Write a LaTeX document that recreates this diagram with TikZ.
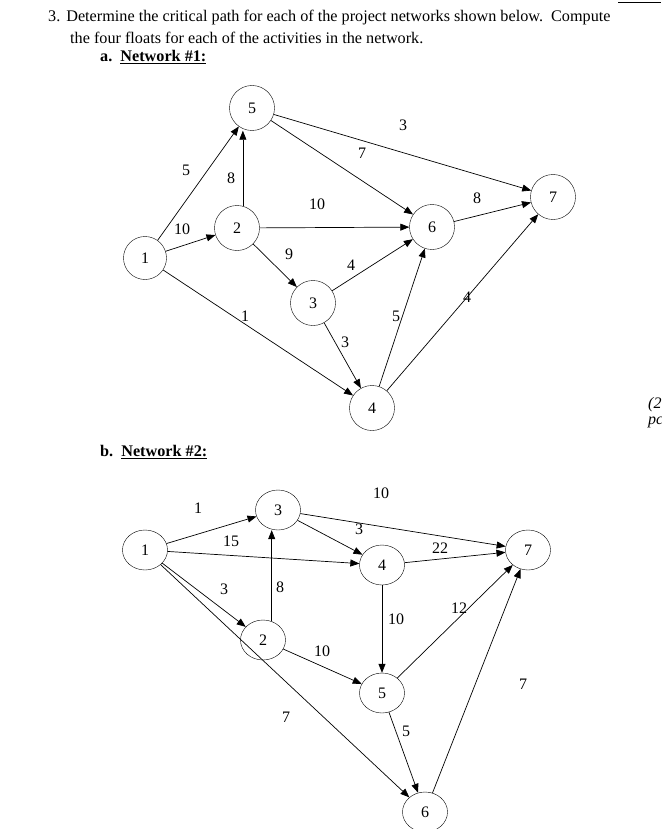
\documentclass[tikz,border=0pt]{standalone}
\usepackage{fontspec}
\setmainfont{Liberation Serif}
\usetikzlibrary{arrows.meta,shapes.geometric}
\begin{document}
\begin{tikzpicture}[x=1pt,y=-1pt,
  nd/.style={draw,circle,minimum size=45pt,inner sep=0pt,font=\fontsize{16}{16}\selectfont},
  el/.style={draw,ellipse,minimum width=45pt,minimum height=40pt,inner sep=0pt,font=\fontsize{16}{16}\selectfont},
  ar/.style={-{Triangle[length=9pt,width=7pt]},line width=0.7pt},
  lb/.style={font=\fontsize{16}{16}\selectfont,inner sep=0pt},
  tx/.style={font=\fontsize{16.2}{18}\selectfont,inner sep=0pt,anchor=west}]
\useasboundingbox (0,0) rectangle (661,829);
\fill[white] (0,0) rectangle (661,829);
\draw[line width=0.5pt] (618,2) -- (661,2);
\node[tx] (h1) at (48,18) {3.\hspace{6pt}Determine the critical path for each of the project networks shown below.\ \ Compute};
\node[tx] (h2) at (70,38) {the four floats for each of the activities in the network.};
\node[tx] (ha) at (100,57) {\textbf{a.\ \ \underline{Network \#1:}}};
\node[tx] (hb) at (100,452) {\textbf{b.\ \ \underline{Network \#2:}}};
\node[tx,font=\itshape\fontsize{16}{18}\selectfont] (s1) at (648,405) {(2};
\node[tx,font=\itshape\fontsize{16}{18}\selectfont] (s2) at (648,422) {pc};
% Network 1
\node[nd,minimum size=43pt] (a1) at (145,258) {1};
\node[nd] (a5) at (252,108) {5};
\node[nd] (a2) at (237,228) {2};
\node[nd] (a6) at (432,227) {6};
\node[nd] (a7) at (553,197) {7};
\node[nd] (a3) at (313,303) {3};
\node[nd] (a4) at (372,408) {4};
\draw[ar] (a1) -- (a5); \draw[ar] (a1) -- (a2); \draw[ar] (a1) -- (a4);
\draw[ar] (a2.75) -- (a2.75 |- a5.south); \draw[ar] (a2) -- (a6); \draw[ar] (a2) -- (a3);
\draw[ar] (a5) -- (a6); \draw[ar] (a5) -- (a7); \draw[ar] (a6) -- (a7);
\draw[ar] (a3) -- (a6); \draw[ar] (a3) -- (a4); \draw[ar] (a4) -- (a6);
\draw[ar] (a4) -- (a7);
\node[lb] (l1) at (186,170) {5}; \node[lb] (l2) at (231,178) {8};
\node[lb] (l3) at (182,229) {10}; \node[lb] (l4) at (317,204) {10};
\node[lb] (l5) at (362,153) {7}; \node[lb] (l6) at (403,125) {3};
\node[lb] (l7) at (477,198) {8}; \node[lb] (l8) at (289,254) {9};
\node[lb] (l9) at (351,265) {4}; \node[lb] (l10) at (245,316) {1};
\node[lb] (l11) at (396,316) {5}; \node[lb] (l12) at (467,297) {4};
\node[lb] (l13) at (345,342) {3};
% Network 2
\node[el] (b1) at (145,550) {1};
\node[el] (b3) at (278,510) {3};
\node[el] (b4) at (382,565) {4};
\node[el] (b7) at (528,550) {7};
\node[el] (b2) at (263,640) {2};
\node[el] (b5) at (382,693) {5};
\node[el] (b6) at (425,812) {6};
\draw[ar] (b1) -- (b3); \draw[ar] (b1) -- (b4); \draw[ar] (b1) -- (b2);
\draw[ar] (b1) -- (b6); \draw[ar] (b2.65) -- (b2.65 |- b3.south); \draw[ar] (b3) -- (b4);
\draw[ar] (b3) -- (b7); \draw[ar] (b4) -- (b7); \draw[ar] (b4) -- (b5);
\draw[ar] (b2) -- (b5); \draw[ar] (b5) -- (b7); \draw[ar] (b5) -- (b6);
\draw[ar] (b6) -- (b7);
\node[lb] (m1) at (198,508) {1}; \node[lb] (m2) at (381,493) {10};
\node[lb] (m3) at (231,541) {15}; \node[lb] (m4) at (359,529) {3};
\node[lb] (m5) at (440,548) {22}; \node[lb] (m6) at (280,587) {8};
\node[lb] (m7) at (224,589) {3}; \node[lb] (m8) at (396,619) {10};
\node[lb] (m9) at (459,608) {12}; \node[lb] (m10) at (322,651) {10};
\node[lb] (m11) at (523,684) {7}; \node[lb] (m12) at (286,717) {7};
\node[lb] (m13) at (406,731) {5};
\end{tikzpicture}
\end{document}
